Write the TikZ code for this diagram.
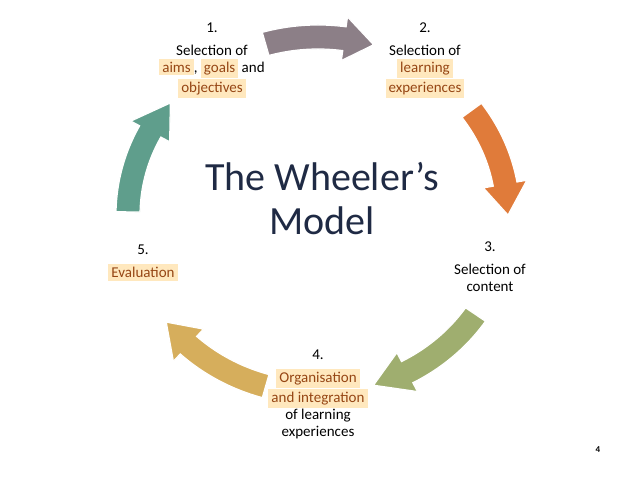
\documentclass[tikz,border=0pt]{standalone}
\usepackage{fontspec}
\setmainfont{Carlito}
\usetikzlibrary{positioning}
\definecolor{navy}{RGB}{31,42,68}
\definecolor{hltext}{RGB}{150,70,20}
\definecolor{hlback}{RGB}{255,232,190}
\definecolor{arrowgrey}{RGB}{140,127,135}
\definecolor{arroworange}{RGB}{224,123,58}
\definecolor{arrowolive}{RGB}{159,174,111}
\definecolor{arrowgold}{RGB}{214,174,92}
\definecolor{arrowteal}{RGB}{95,158,140}
\newcommand{\hl}[1]{\colorbox{hlback}{\textcolor{hltext}{#1}}}
% band arrow: start angle, head angle, tip angle, colour
\newcommand{\cyclearrow}[4]{%
  \filldraw[draw=white, line width=1.2pt, fill=#4]
    plot[domain=#1:#2, samples=25] ({318+202*cos(\x)},{263+190*sin(\x)})
    -- ({318+212*cos(#2)},{263+200*sin(#2)})
    -- ({318+190*cos(#3)},{263+178*sin(#3)})
    -- ({318+168*cos(#2)},{263+156*sin(#2)})
    -- plot[domain=#2:#1, samples=25] ({318+178*cos(\x)},{263+166*sin(\x)})
    -- cycle;}
\begin{document}
\begin{tikzpicture}[x=1pt,y=1pt]
  \tikzstyle{every node}=[font=\fontsize{15}{17}\selectfont, align=center, inner sep=0pt]
  \tikzstyle{stage}=[text=black]
  \useasboundingbox (0,0) rectangle (638,478);

  \cyclearrow{106}{82}{73}{arrowgrey}
  \cyclearrow{36}{10}{0}{arroworange}
  \cyclearrow{-34}{-62}{-73}{arrowolive}
  \cyclearrow{-106}{-133}{-143}{arrowgold}
  \cyclearrow{179}{152}{141}{arrowteal}

  \node[stage] (one) at (212,418) {1.\\[6pt] Selection of\\ \hl{aims}, \hl{goals} and\\ \hl{objectives}};
  \node[stage] (two) at (425,418) {2.\\[6pt] Selection of\\ \hl{learning}\\ \hl{experiences}};
  \node[stage] (three) at (490,211) {3.\\[6pt] Selection of\\ content};
  \node[stage] (four) at (318,84) {4.\\[6pt] \hl{Organisation}\\ \hl{and integration}\\ of learning\\ experiences};
  \node[stage] (five) at (143,215) {5.\\[6pt] \hl{Evaluation}};
  \node[font=\fontsize{40}{44}\selectfont, text=navy] (title) at (322,279) {The Wheeler's\\ Model};
  \node[font=\bfseries\small] (page) at (598,28) {4};
\end{tikzpicture}
\end{document}
